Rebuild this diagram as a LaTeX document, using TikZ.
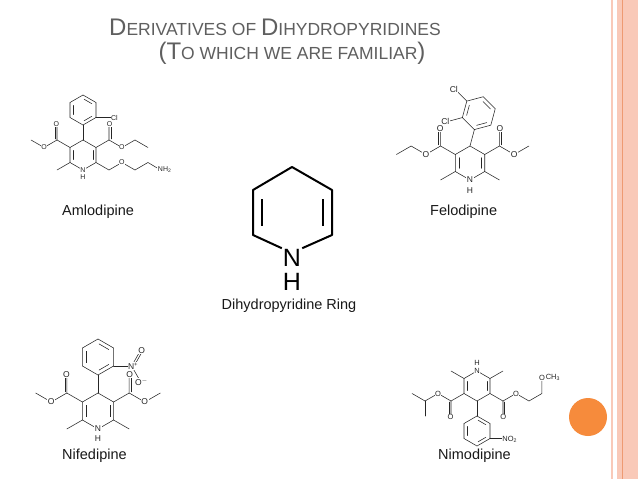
\documentclass[tikz,border=0pt]{standalone}
\usepackage{fontspec}
\setmainfont{Liberation Sans}
\usetikzlibrary{calc}
\definecolor{band}{HTML}{F9C9B8}
\definecolor{bandline}{HTML}{EE9A72}
\definecolor{dot}{HTML}{F68B3C}
\definecolor{titlegray}{HTML}{5F5F5F}
\tikzset{
  bond/.style={line width=.55pt, draw=black!85, line cap=round},
  inner/.style={bond, shorten <=1.2pt, shorten >=1.2pt},
  atom/.style={fill=white, inner sep=.5pt, text=black!85},
  lbl/.style={font=\fontsize{14.5}{16}\selectfont, text=black!90, inner sep=0pt},
}
\newcommand\benz[4]{%
  \draw[bond,shift={(#1,#2)}] ({#3}:1)--({#3+60}:1)--({#3+120}:1)--({#3+180}:1)--({#3+240}:1)--({#3+300}:1)--cycle;
  \foreach \k in {0,120,240}{\draw[inner,shift={(#1,#2)},scale=.76] ({#4+\k}:1)--({#4+\k+60}:1);}}
\newcommand\dhp{%
  \draw[bond] (0,1)--(.866,.5)--(.866,-.5)--(0,-1)--(-.866,-.5)--(-.866,.5)--cycle;
  \draw[inner,scale=.76] (-.866,.5)--(-.866,-.5);
  \draw[inner,scale=.76] (.866,.5)--(.866,-.5);}
\newcommand\bigc{\fontsize{24}{26}\selectfont}
\newcommand\smc{\fontsize{17.5}{20}\selectfont}
\begin{document}
\begin{tikzpicture}[x=1pt,y=1pt]
\useasboundingbox (0,0) rectangle (638,-479);
\fill[white] (0,0) rectangle (638,-479);
\fill[band] (610.5,0) rectangle (612.8,-479);
\fill[band] (617,0) rectangle (638,-479);
\draw[bandline,line width=.8pt] (622.5,0)--(622.5,-479);
\fill[dot] (588,-417) circle (19);
\node[text=titlegray] (t1) at (275,-27) {\bigc D\smc ERIVATIVES OF \bigc D\smc IHYDROPYRIDINES};
\node[text=titlegray] (t2) at (292,-53) {\bigc (T\smc O WHICH WE ARE FAMILIAR\bigc )};

% ---------- Amlodipine ----------
\begin{scope}[shift={(83,-155)},x=15pt,y=15pt,atom/.append style={font=\fontsize{7}{8}\selectfont}]
\dhp
\draw[bond] (0,1)--(0,2);
\benz{0}{3}{90}{30}
\draw[bond] (.866,2.5)--(1.9,2.5);
\draw[bond] (-.866,.5)--(-1.732,1)--(-1.732,2);
\draw[bond] (-1.852,1.07)--(-1.852,1.95);
\draw[bond] (-1.732,1)--(-2.598,.5)--(-3.464,1);
\draw[bond] (-.866,-.5)--(-1.732,-1);
\draw[bond] (.866,.5)--(1.732,1)--(1.732,2);
\draw[bond] (1.852,1.07)--(1.852,1.95);
\draw[bond] (1.732,1)--(2.598,.5)--(3.464,1)--(4.33,.5);
\draw[bond] (.866,-.5)--(1.732,-1)--(2.598,-.5)--(3.464,-1)--(4.33,-.5)--(5.0,-.9);
\node[atom] (a1) at (2.1,2.5) {Cl};
\node[atom] (a2) at (-1.78,2.05) {O};
\node[atom] (a3) at (-2.598,.5) {O};
\node[atom] (a4) at (1.78,2.05) {O};
\node[atom] (a5) at (2.598,.5) {O};
\node[atom] (a6) at (2.598,-.5) {O};
\node[atom,anchor=west] (a7) at (4.95,-1) {NH\textsubscript{2}};
\node[atom] (a8) at (0,-1) {N};
\node[atom,fill=none] (a9) at (0,-1.5) {H};
\end{scope}
\node[lbl,anchor=west] (l1) at (62,-212) {Amlodipine};

% ---------- Felodipine ----------
\begin{scope}[shift={(470,-163)},x=17pt,y=17pt,atom/.append style={font=\fontsize{8.5}{9}\selectfont}]
\dhp
\draw[bond] (0,1)--(0.259,1.966);
\benz{0.518}{2.932}{15}{15}
\draw[bond] (-0.448,2.673)--(-1.2,2.47);
\draw[bond] (-0.189,3.639)--(-0.72,4.17);
\draw[bond] (-.866,.5)--(-1.732,1)--(-1.732,2);
\draw[bond] (-1.842,1.07)--(-1.842,1.95);
\draw[bond] (-1.732,1)--(-2.598,.5)--(-3.464,1)--(-4.33,.5);
\draw[bond] (-.866,-.5)--(-1.732,-1);
\draw[bond] (.866,.5)--(1.732,1)--(1.732,2);
\draw[bond] (1.842,1.07)--(1.842,1.95);
\draw[bond] (1.732,1)--(2.598,.5)--(3.464,1);
\draw[bond] (.866,-.5)--(1.732,-1);
\node[atom] (f1) at (-1.45,2.42) {Cl};
\node[atom] (f2) at (-0.95,4.35) {Cl};
\node[atom] (f3) at (-1.76,2.05) {O};
\node[atom] (f4) at (-2.598,.5) {O};
\node[atom] (f5) at (1.76,2.05) {O};
\node[atom] (f6) at (2.598,.5) {O};
\node[atom] (f7) at (0,-1) {N};
\node[atom,fill=none] (f8) at (0,-1.65) {H};
\end{scope}
\node[lbl,anchor=west] (l2) at (430,-212) {Felodipine};

% ---------- central ring ----------
\node[font=\fontsize{25}{25}\selectfont,inner sep=1pt] (cn) at (292,-258) {N};
\node[font=\fontsize{25}{25}\selectfont,inner sep=0pt] (ch) at (292,-282) {H};
\coordinate (r1) at (292,-167);
\coordinate (r2) at (253,-190);
\coordinate (r3) at (253,-235);
\coordinate (r5) at (332,-235);
\coordinate (r6) at (332,-190);
\draw[line width=2pt,line join=round] (cn.north west) -- (r3) -- (r2) -- (r1) -- (r6) -- (r5) -- (cn.north east);
\draw[line width=2pt] (262,-199)--(262,-226);
\draw[line width=2pt] (323,-199)--(323,-226);
\node[lbl] (l3) at (289,-306) {Dihydropyridine Ring};

% ---------- Nifedipine ----------
\begin{scope}[shift={(98,-411)},x=18pt,y=18pt,atom/.append style={font=\fontsize{8.5}{9}\selectfont}]
\dhp
\draw[bond] (0,1)--(0,2);
\benz{0}{3}{90}{30}
\draw[bond] (.866,2.5)--(1.866,2.5);
\draw[bond] (1.866,2.5)--(2.32,3.29);
\draw[bond] (1.97,2.44)--(2.42,3.23);
\draw[bond] (1.866,2.5)--(2.32,1.71);
\draw[bond] (-.866,.5)--(-1.732,1)--(-1.732,2);
\draw[bond] (-1.842,1.07)--(-1.842,1.95);
\draw[bond] (-1.732,1)--(-2.598,.5)--(-3.464,1);
\draw[bond] (-.866,-.5)--(-1.732,-1);
\draw[bond] (.866,.5)--(1.732,1)--(1.732,2);
\draw[bond] (1.842,1.07)--(1.842,1.95);
\draw[bond] (1.732,1)--(2.598,.5)--(3.464,1);
\draw[bond] (.866,-.5)--(1.732,-1);
\node[atom] (n1) at (1.95,2.5) {N\textsuperscript{+}};
\node[atom] (n2) at (2.42,3.38) {O};
\node[atom] (n3) at (2.42,1.6) {O\textsuperscript{$-$}};
\node[atom] (n4) at (-1.76,2.05) {O};
\node[atom] (n5) at (-2.598,.5) {O};
\node[atom] (n6) at (1.76,2.05) {O};
\node[atom] (n7) at (2.598,.5) {O};
\node[atom] (n8) at (0,-1) {N};
\node[atom,fill=none] (n9) at (0,-1.55) {H};
\end{scope}
\node[lbl,anchor=west] (l4) at (62,-456) {Nifedipine};

% ---------- Nimodipine ----------
\begin{scope}[shift={(477,-386)},x=15pt,y=15pt,atom/.append style={font=\fontsize{7.5}{8}\selectfont}]
\dhp
\draw[bond] (0,-1)--(0,-2);
\benz{0}{-3}{90}{30}
\draw[bond] (.866,-3.5)--(1.7,-3.5);
\draw[bond] (-.866,.5)--(-1.732,1);
\draw[bond] (.866,.5)--(1.732,1);
\draw[bond] (-.866,-.5)--(-1.732,-1)--(-1.732,-2);
\draw[bond] (-1.842,-1.07)--(-1.842,-1.95);
\draw[bond] (-1.732,-1)--(-2.598,-.5)--(-3.464,-1)--(-4.33,-.5);
\draw[bond] (-3.464,-1)--(-3.464,-2);
\draw[bond] (.866,-.5)--(1.732,-1)--(1.732,-2);
\draw[bond] (1.842,-1.07)--(1.842,-1.95);
\draw[bond] (1.732,-1)--(2.598,-.5)--(3.464,-1)--(4.33,-.5)--(4.33,.5);
\node[atom] (m1) at (-1.76,-2.05) {O};
\node[atom] (m2) at (-2.598,-.5) {O};
\node[atom] (m3) at (1.76,-2.05) {O};
\node[atom] (m4) at (2.598,-.5) {O};
\node[atom] (m5) at (4.33,.55) {O};
\node[atom,anchor=west,inner sep=0pt] (m6) at (m5.east) {CH\textsubscript{3}};
\node[atom,anchor=west] (m7) at (1.65,-3.55) {NO\textsubscript{2}};
\node[atom] (m8) at (0,1) {N};
\node[atom,fill=none] (m9) at (0,1.55) {H};
\end{scope}
\node[lbl,anchor=west] (l5) at (438,-456) {Nimodipine};
\end{tikzpicture}
\end{document}
